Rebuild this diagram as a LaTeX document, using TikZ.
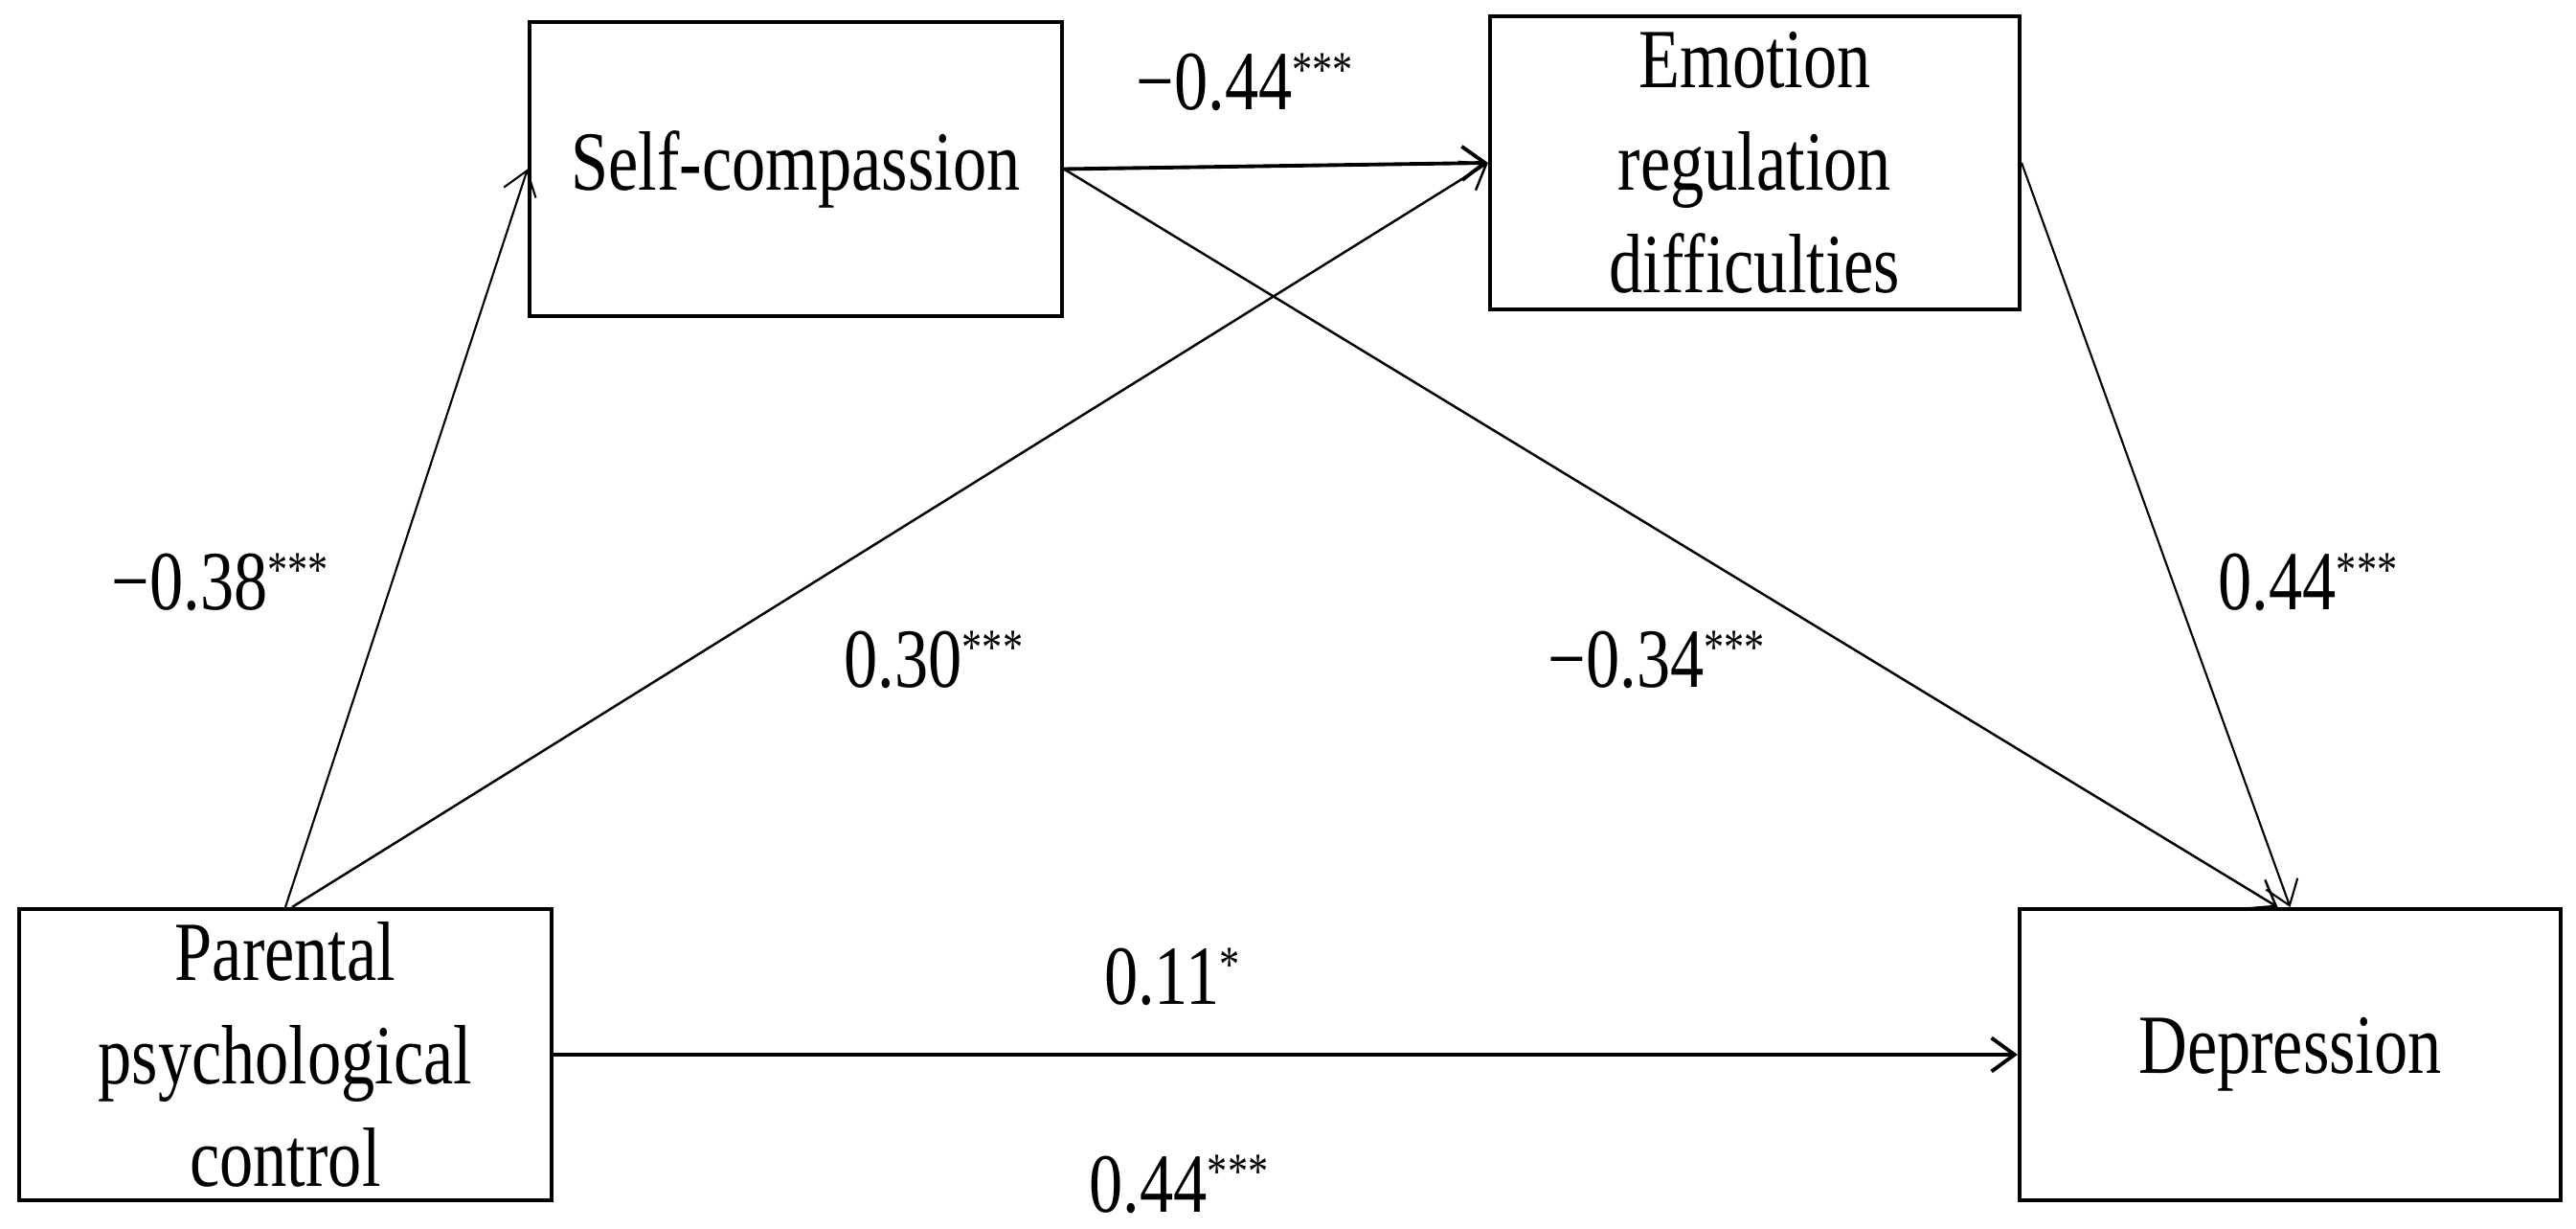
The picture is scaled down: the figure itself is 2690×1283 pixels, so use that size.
\documentclass[tikz,border=0pt]{standalone}
\usepackage{fontspec}
\setmainfont{Liberation Serif}[FakeStretch=0.8]
\usetikzlibrary{arrows.meta}
\newcommand{\pstar}[1]{\raisebox{0.28em}{\fontsize{15}{15}\selectfont #1}}

\begin{document}
\begin{tikzpicture}[x=0.01cm,y=-0.01cm,
  var/.style={draw,line width=1.1pt,align=center,inner sep=0pt,font=\fontsize{25}{30.5}\selectfont},
  coef/.style={anchor=base,inner sep=0pt,font=\fontsize{25}{30.5}\selectfont},
  path/.style={-{Straight Barb[length=0.24cm,width=0.35cm]},line width=0.7pt}]
\useasboundingbox (0,0) rectangle (2690,1283);
\node[var,minimum width=5.56cm,minimum height=3.07cm] (scomp) at (831,176.5) {Self-compassion};
\node[var,minimum width=5.53cm,minimum height=3.06cm] (erd) at (1832.5,170) {Emotion\\regulation\\difficulties};
\node[var,minimum width=5.56cm,minimum height=3.04cm] (ppc) at (298,1101) {Parental\\psychological\\control};
\node[var,minimum width=5.65cm,minimum height=3.04cm] (dep) at (2391.5,1101) {Depression};
\draw[path,line width=0.6pt] (ppc.north) -- (scomp.west);
\draw[path] ([xshift=0.07cm]ppc.north) -- (erd.west);
\draw[path,line width=1.1pt] (scomp.east) -- (erd.west);
\draw[path] (scomp.east) -- ([xshift=-0.13cm]dep.north);
\draw[path,line width=0.6pt] (erd.east) -- (dep.north);
\draw[path,line width=1.1pt] (ppc.east) -- (dep.west);
\node[coef] (a) at (230,637) {−0.38\pstar{***}};
\node[coef] (b) at (1300,115) {−0.44\pstar{***}};
\node[coef] (c) at (975,718) {0.30\pstar{***}};
\node[coef] (d) at (1730,718) {−0.34\pstar{***}};
\node[coef] (e) at (2410,637) {0.44\pstar{***}};
\node[coef] (f) at (1224,1049) {0.11\pstar{*}};
\node[coef] (g) at (1231,1265) {0.44\pstar{***}};
\end{tikzpicture}
\end{document}
